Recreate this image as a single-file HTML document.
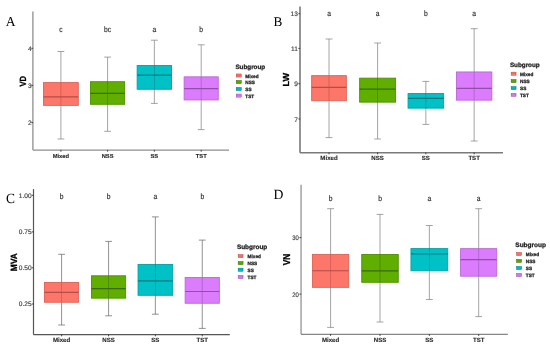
<!DOCTYPE html>
<html><head><meta charset="utf-8"><title>Boxplots</title>
<style>
html,body{margin:0;padding:0;background:#fff;}
body{width:550px;height:347px;overflow:hidden;}
svg{display:block;filter:blur(0.3px);}
text{font-family:"Liberation Sans", Arial, sans-serif;text-rendering:geometricPrecision;}
.tk{font-size:6.6px;fill:#444;stroke:#444;stroke-width:0.18px;text-anchor:end;dominant-baseline:central;}
.xl{font-size:5.8px;fill:#2a2a2a;stroke:#2a2a2a;stroke-width:0.12px;font-weight:bold;text-anchor:middle;dominant-baseline:central;}
.sg{font-size:7.8px;fill:#262626;stroke:#262626;stroke-width:0.15px;text-anchor:middle;dominant-baseline:central;}
.yl{font-size:8.3px;fill:#000;stroke:#000;stroke-width:0.25px;font-weight:bold;text-anchor:middle;dominant-baseline:central;}
.pl{font-family:"Liberation Serif", "Times New Roman", serif;font-size:14.5px;fill:#000;}
.lt{font-size:6.3px;fill:#1a1a1a;stroke:#1a1a1a;stroke-width:0.25px;font-weight:bold;dominant-baseline:central;}
.ll{font-size:4.7px;fill:#1a1a1a;stroke:#1a1a1a;stroke-width:0.25px;font-weight:bold;dominant-baseline:central;}
</style></head>
<body>
<svg width="550" height="347" viewBox="0 0 550 347">
<rect width="550" height="347" fill="#fff"/>
<line x1="32.9" y1="11.5" x2="32.9" y2="150.1" stroke="#8e8e8e" stroke-width="1.3"/>
<line x1="32.9" y1="150.1" x2="229" y2="150.1" stroke="#8e8e8e" stroke-width="1.3"/>
<line x1="31.30" y1="48.3" x2="33.10" y2="48.3" stroke="#333" stroke-width="0.9"/>
<text x="0" y="0" class="tk" transform="translate(31.60,49.00) scale(1,1)">4</text>
<line x1="31.30" y1="85.4" x2="33.10" y2="85.4" stroke="#333" stroke-width="0.9"/>
<text x="0" y="0" class="tk" transform="translate(31.60,86.10) scale(1,1)">3</text>
<line x1="31.30" y1="122.6" x2="33.10" y2="122.6" stroke="#333" stroke-width="0.9"/>
<text x="0" y="0" class="tk" transform="translate(31.60,123.30) scale(1,1)">2</text>
<line x1="60.9" y1="149.90" x2="60.9" y2="151.70" stroke="#333" stroke-width="0.9"/>
<text x="60.9" y="156.70" class="xl" style="font-size:5.8px">Mixed</text>
<line x1="107.6" y1="149.90" x2="107.6" y2="151.70" stroke="#333" stroke-width="0.9"/>
<text x="107.6" y="156.70" class="xl" style="font-size:5.8px">NSS</text>
<line x1="154.35" y1="149.90" x2="154.35" y2="151.70" stroke="#333" stroke-width="0.9"/>
<text x="154.35" y="156.70" class="xl" style="font-size:5.8px">SS</text>
<line x1="201.2" y1="149.90" x2="201.2" y2="151.70" stroke="#333" stroke-width="0.9"/>
<text x="201.2" y="156.70" class="xl" style="font-size:5.8px">TST</text>
<line x1="60.9" y1="51.5" x2="60.9" y2="139.0" stroke="#858585" stroke-width="0.75"/>
<line x1="57.5" y1="51.5" x2="64.3" y2="51.5" stroke="#858585" stroke-width="0.75"/>
<line x1="57.5" y1="139.0" x2="64.3" y2="139.0" stroke="#858585" stroke-width="0.75"/>
<rect x="43.52" y="82.60" width="34.77" height="22.78" fill="#FC766A" stroke="#DC6358" stroke-width="0.9"/>
<line x1="60.9" y1="82.60" x2="60.9" y2="105.38" stroke="#B44E46" stroke-width="0.6" opacity="0.85"/>
<line x1="43.52" y1="96.9" x2="78.29" y2="96.9" stroke="#B44E46" stroke-width="1.2"/>
<text x="0" y="0" class="sg" transform="translate(60.9,29.70) scale(0.86,1)">c</text>
<line x1="107.6" y1="57.1" x2="107.6" y2="131.3" stroke="#858585" stroke-width="0.75"/>
<line x1="104.19999999999999" y1="57.1" x2="111.0" y2="57.1" stroke="#858585" stroke-width="0.75"/>
<line x1="104.19999999999999" y1="131.3" x2="111.0" y2="131.3" stroke="#858585" stroke-width="0.75"/>
<rect x="90.52" y="81.70" width="34.13" height="22.60" fill="#60AE00" stroke="#4F9000" stroke-width="0.9"/>
<line x1="107.6" y1="81.70" x2="107.6" y2="104.30" stroke="#3A6A00" stroke-width="0.6" opacity="0.85"/>
<line x1="90.52" y1="93.3" x2="124.65" y2="93.3" stroke="#3A6A00" stroke-width="1.2"/>
<text x="0" y="0" class="sg" transform="translate(107.6,29.70) scale(0.86,1)">bc</text>
<line x1="154.35" y1="40.2" x2="154.35" y2="103.4" stroke="#858585" stroke-width="0.75"/>
<line x1="150.95" y1="40.2" x2="157.75" y2="40.2" stroke="#858585" stroke-width="0.75"/>
<line x1="150.95" y1="103.4" x2="157.75" y2="103.4" stroke="#858585" stroke-width="0.75"/>
<rect x="137.15" y="65.52" width="34.40" height="23.73" fill="#00C1C6" stroke="#00A2A7" stroke-width="0.9"/>
<line x1="154.35" y1="65.52" x2="154.35" y2="89.25" stroke="#007A80" stroke-width="0.6" opacity="0.85"/>
<line x1="137.15" y1="75.2" x2="171.55" y2="75.2" stroke="#007A80" stroke-width="1.2"/>
<text x="0" y="0" class="sg" transform="translate(154.35,29.70) scale(0.86,1)">a</text>
<line x1="201.2" y1="44.8" x2="201.2" y2="129.6" stroke="#858585" stroke-width="0.75"/>
<line x1="197.79999999999998" y1="44.8" x2="204.6" y2="44.8" stroke="#858585" stroke-width="0.75"/>
<line x1="197.79999999999998" y1="129.6" x2="204.6" y2="129.6" stroke="#858585" stroke-width="0.75"/>
<rect x="184.15" y="76.85" width="34.10" height="23.10" fill="#DB7CFD" stroke="#BA68D6" stroke-width="0.9"/>
<line x1="201.2" y1="76.85" x2="201.2" y2="99.95" stroke="#9050A8" stroke-width="0.6" opacity="0.85"/>
<line x1="184.15" y1="88.6" x2="218.25" y2="88.6" stroke="#9050A8" stroke-width="1.2"/>
<text x="0" y="0" class="sg" transform="translate(201.2,29.70) scale(0.86,1)">b</text>
<text x="0" y="0" class="yl" style="font-size:7.6px" transform="translate(22.8,81.3) rotate(-90) scale(1.0,1.18)">VD</text>
<text x="0" y="0" class="pl" style="font-size:13.6px" transform="translate(5.8,25.8) scale(1.0,1)">A</text>
<text x="235.4" y="67.80" class="lt" style="font-size:6.3px">Subgroup</text>
<rect x="236.25" y="73.95" width="5.00" height="3.1" fill="#FC766A" stroke="#B44E46" stroke-width="0.5"/>
<line x1="236.25" y1="75.5" x2="241.25" y2="75.5" stroke="#B44E46" stroke-width="0.4" opacity="0.6"/>
<text x="245.3" y="76.30" class="ll">Mixed</text>
<rect x="236.25" y="80.45" width="5.00" height="3.1" fill="#60AE00" stroke="#3A6A00" stroke-width="0.5"/>
<line x1="236.25" y1="82.0" x2="241.25" y2="82.0" stroke="#3A6A00" stroke-width="0.4" opacity="0.6"/>
<text x="245.3" y="82.80" class="ll">NSS</text>
<rect x="236.25" y="87.45" width="5.00" height="3.1" fill="#00C1C6" stroke="#007A80" stroke-width="0.5"/>
<line x1="236.25" y1="89.0" x2="241.25" y2="89.0" stroke="#007A80" stroke-width="0.4" opacity="0.6"/>
<text x="245.3" y="89.80" class="ll">SS</text>
<rect x="236.25" y="94.05" width="5.00" height="3.1" fill="#DB7CFD" stroke="#9050A8" stroke-width="0.5"/>
<line x1="236.25" y1="95.6" x2="241.25" y2="95.6" stroke="#9050A8" stroke-width="0.4" opacity="0.6"/>
<text x="245.3" y="96.40" class="ll">TST</text>
<line x1="300.0" y1="6.5" x2="300.0" y2="152.7" stroke="#7a7a7a" stroke-width="1.6"/>
<line x1="300.0" y1="152.7" x2="503" y2="152.7" stroke="#7a7a7a" stroke-width="1.6"/>
<line x1="298.40" y1="13.7" x2="300.20" y2="13.7" stroke="#333" stroke-width="0.9"/>
<text x="0" y="0" class="tk" transform="translate(297.85,14.90) scale(1,1)">13</text>
<line x1="298.40" y1="48.4" x2="300.20" y2="48.4" stroke="#333" stroke-width="0.9"/>
<text x="0" y="0" class="tk" transform="translate(297.85,49.60) scale(1,1)">11</text>
<line x1="298.40" y1="83.7" x2="300.20" y2="83.7" stroke="#333" stroke-width="0.9"/>
<text x="0" y="0" class="tk" transform="translate(297.85,84.90) scale(1,1)">9</text>
<line x1="298.40" y1="119.0" x2="300.20" y2="119.0" stroke="#333" stroke-width="0.9"/>
<text x="0" y="0" class="tk" transform="translate(297.85,120.20) scale(1,1)">7</text>
<line x1="329.0" y1="152.50" x2="329.0" y2="154.30" stroke="#333" stroke-width="0.9"/>
<text x="329.0" y="158.80" class="xl" style="font-size:6.1px">Mixed</text>
<line x1="377.6" y1="152.50" x2="377.6" y2="154.30" stroke="#333" stroke-width="0.9"/>
<text x="377.6" y="158.80" class="xl" style="font-size:6.1px">NSS</text>
<line x1="425.85" y1="152.50" x2="425.85" y2="154.30" stroke="#333" stroke-width="0.9"/>
<text x="425.85" y="158.80" class="xl" style="font-size:6.1px">SS</text>
<line x1="474.15" y1="152.50" x2="474.15" y2="154.30" stroke="#333" stroke-width="0.9"/>
<text x="474.15" y="158.80" class="xl" style="font-size:6.1px">TST</text>
<line x1="329.0" y1="39.0" x2="329.0" y2="137.6" stroke="#858585" stroke-width="0.75"/>
<line x1="325.6" y1="39.0" x2="332.4" y2="39.0" stroke="#858585" stroke-width="0.75"/>
<line x1="325.6" y1="137.6" x2="332.4" y2="137.6" stroke="#858585" stroke-width="0.75"/>
<rect x="311.65" y="75.65" width="34.70" height="25.05" fill="#FC766A" stroke="#DC6358" stroke-width="0.9"/>
<line x1="329.0" y1="75.65" x2="329.0" y2="100.70" stroke="#B44E46" stroke-width="0.6" opacity="0.85"/>
<line x1="311.65" y1="87.4" x2="346.35" y2="87.4" stroke="#B44E46" stroke-width="1.2"/>
<text x="0" y="0" class="sg" transform="translate(329.0,13.50) scale(0.86,1)">a</text>
<line x1="377.6" y1="43.0" x2="377.6" y2="139.0" stroke="#858585" stroke-width="0.75"/>
<line x1="374.20000000000005" y1="43.0" x2="381.0" y2="43.0" stroke="#858585" stroke-width="0.75"/>
<line x1="374.20000000000005" y1="139.0" x2="381.0" y2="139.0" stroke="#858585" stroke-width="0.75"/>
<rect x="359.65" y="78.15" width="35.95" height="24.00" fill="#60AE00" stroke="#4F9000" stroke-width="0.9"/>
<line x1="377.6" y1="78.15" x2="377.6" y2="102.15" stroke="#3A6A00" stroke-width="0.6" opacity="0.85"/>
<line x1="359.65" y1="89.1" x2="395.60" y2="89.1" stroke="#3A6A00" stroke-width="1.2"/>
<text x="0" y="0" class="sg" transform="translate(377.6,13.50) scale(0.86,1)">a</text>
<line x1="425.85" y1="81.4" x2="425.85" y2="124.4" stroke="#858585" stroke-width="0.75"/>
<line x1="422.45000000000005" y1="81.4" x2="429.25" y2="81.4" stroke="#858585" stroke-width="0.75"/>
<line x1="422.45000000000005" y1="124.4" x2="429.25" y2="124.4" stroke="#858585" stroke-width="0.75"/>
<rect x="408.05" y="93.55" width="35.60" height="14.60" fill="#00C1C6" stroke="#00A2A7" stroke-width="0.9"/>
<line x1="425.85" y1="93.55" x2="425.85" y2="108.15" stroke="#007A80" stroke-width="0.6" opacity="0.85"/>
<line x1="408.05" y1="98.45" x2="443.65" y2="98.45" stroke="#007A80" stroke-width="1.2"/>
<text x="0" y="0" class="sg" transform="translate(425.85,13.50) scale(0.86,1)">b</text>
<line x1="474.15" y1="28.7" x2="474.15" y2="141.0" stroke="#858585" stroke-width="0.75"/>
<line x1="470.75" y1="28.7" x2="477.54999999999995" y2="28.7" stroke="#858585" stroke-width="0.75"/>
<line x1="470.75" y1="141.0" x2="477.54999999999995" y2="141.0" stroke="#858585" stroke-width="0.75"/>
<rect x="456.45" y="71.95" width="35.40" height="28.20" fill="#DB7CFD" stroke="#BA68D6" stroke-width="0.9"/>
<line x1="474.15" y1="71.95" x2="474.15" y2="100.15" stroke="#9050A8" stroke-width="0.6" opacity="0.85"/>
<line x1="456.45" y1="88.3" x2="491.85" y2="88.3" stroke="#9050A8" stroke-width="1.2"/>
<text x="0" y="0" class="sg" transform="translate(474.15,13.50) scale(0.86,1)">a</text>
<text x="0" y="0" class="yl" style="font-size:8.4px" transform="translate(286.1,79.7) rotate(-90) scale(1.1,1.05)">LW</text>
<text x="0" y="0" class="pl" style="font-size:13.3px" transform="translate(273.4,26.15) scale(1.0,1)">B</text>
<text x="509.9" y="65.50" class="lt" style="font-size:6.3px">Subgroup</text>
<rect x="511.15" y="72.15" width="4.90" height="3.1" fill="#FC766A" stroke="#B44E46" stroke-width="0.5"/>
<line x1="511.15" y1="73.7" x2="516.05" y2="73.7" stroke="#B44E46" stroke-width="0.4" opacity="0.6"/>
<text x="520.0" y="74.50" class="ll">Mixed</text>
<rect x="511.15" y="79.55" width="4.90" height="3.1" fill="#60AE00" stroke="#3A6A00" stroke-width="0.5"/>
<line x1="511.15" y1="81.1" x2="516.05" y2="81.1" stroke="#3A6A00" stroke-width="0.4" opacity="0.6"/>
<text x="520.0" y="81.90" class="ll">NSS</text>
<rect x="511.15" y="86.55" width="4.90" height="3.1" fill="#00C1C6" stroke="#007A80" stroke-width="0.5"/>
<line x1="511.15" y1="88.1" x2="516.05" y2="88.1" stroke="#007A80" stroke-width="0.4" opacity="0.6"/>
<text x="520.0" y="88.90" class="ll">SS</text>
<rect x="511.15" y="93.25" width="4.90" height="3.1" fill="#DB7CFD" stroke="#9050A8" stroke-width="0.5"/>
<line x1="511.15" y1="94.8" x2="516.05" y2="94.8" stroke="#9050A8" stroke-width="0.4" opacity="0.6"/>
<text x="520.0" y="95.60" class="ll">TST</text>
<line x1="33.5" y1="189.1" x2="33.5" y2="334.7" stroke="#555555" stroke-width="1.2"/>
<line x1="33.5" y1="334.7" x2="229.8" y2="334.7" stroke="#555555" stroke-width="1.2"/>
<line x1="31.90" y1="195.3" x2="33.70" y2="195.3" stroke="#333" stroke-width="0.9"/>
<text x="0" y="0" class="tk" transform="translate(31.60,196.00) scale(1,1)">1.00</text>
<line x1="31.90" y1="231.9" x2="33.70" y2="231.9" stroke="#333" stroke-width="0.9"/>
<text x="0" y="0" class="tk" transform="translate(31.60,232.60) scale(1,1)">0.75</text>
<line x1="31.90" y1="267.8" x2="33.70" y2="267.8" stroke="#333" stroke-width="0.9"/>
<text x="0" y="0" class="tk" transform="translate(31.60,268.50) scale(1,1)">0.50</text>
<line x1="31.90" y1="304.0" x2="33.70" y2="304.0" stroke="#333" stroke-width="0.9"/>
<text x="0" y="0" class="tk" transform="translate(31.60,304.70) scale(1,1)">0.25</text>
<line x1="61.6" y1="334.50" x2="61.6" y2="336.30" stroke="#333" stroke-width="0.9"/>
<text x="61.6" y="340.70" class="xl" style="font-size:6.1px">Mixed</text>
<line x1="108.6" y1="334.50" x2="108.6" y2="336.30" stroke="#333" stroke-width="0.9"/>
<text x="108.6" y="340.70" class="xl" style="font-size:6.1px">NSS</text>
<line x1="155.35" y1="334.50" x2="155.35" y2="336.30" stroke="#333" stroke-width="0.9"/>
<text x="155.35" y="340.70" class="xl" style="font-size:6.1px">SS</text>
<line x1="202.25" y1="334.50" x2="202.25" y2="336.30" stroke="#333" stroke-width="0.9"/>
<text x="202.25" y="340.70" class="xl" style="font-size:6.1px">TST</text>
<line x1="61.6" y1="254.3" x2="61.6" y2="325.0" stroke="#6e6e6e" stroke-width="0.75"/>
<line x1="58.2" y1="254.3" x2="65.0" y2="254.3" stroke="#6e6e6e" stroke-width="0.75"/>
<line x1="58.2" y1="325.0" x2="65.0" y2="325.0" stroke="#6e6e6e" stroke-width="0.75"/>
<rect x="44.52" y="282.45" width="34.13" height="19.80" fill="#FC766A" stroke="#DC6358" stroke-width="0.9"/>
<line x1="61.6" y1="282.45" x2="61.6" y2="302.25" stroke="#B44E46" stroke-width="0.6" opacity="0.85"/>
<line x1="44.52" y1="292.4" x2="78.65" y2="292.4" stroke="#B44E46" stroke-width="1.2"/>
<text x="0" y="0" class="sg" transform="translate(61.6,196.00) scale(0.86,1)">b</text>
<line x1="108.6" y1="241.4" x2="108.6" y2="315.8" stroke="#6e6e6e" stroke-width="0.75"/>
<line x1="105.19999999999999" y1="241.4" x2="112.0" y2="241.4" stroke="#6e6e6e" stroke-width="0.75"/>
<line x1="105.19999999999999" y1="315.8" x2="112.0" y2="315.8" stroke="#6e6e6e" stroke-width="0.75"/>
<rect x="91.52" y="275.80" width="34.13" height="22.35" fill="#60AE00" stroke="#4F9000" stroke-width="0.9"/>
<line x1="108.6" y1="275.80" x2="108.6" y2="298.15" stroke="#3A6A00" stroke-width="0.6" opacity="0.85"/>
<line x1="91.52" y1="288.7" x2="125.65" y2="288.7" stroke="#3A6A00" stroke-width="1.2"/>
<text x="0" y="0" class="sg" transform="translate(108.6,196.00) scale(0.86,1)">b</text>
<line x1="155.35" y1="216.9" x2="155.35" y2="314.2" stroke="#6e6e6e" stroke-width="0.75"/>
<line x1="151.95" y1="216.9" x2="158.75" y2="216.9" stroke="#6e6e6e" stroke-width="0.75"/>
<line x1="151.95" y1="314.2" x2="158.75" y2="314.2" stroke="#6e6e6e" stroke-width="0.75"/>
<rect x="138.05" y="264.45" width="34.60" height="30.85" fill="#00C1C6" stroke="#00A2A7" stroke-width="0.9"/>
<line x1="155.35" y1="264.45" x2="155.35" y2="295.30" stroke="#007A80" stroke-width="0.6" opacity="0.85"/>
<line x1="138.05" y1="280.8" x2="172.65" y2="280.8" stroke="#007A80" stroke-width="1.2"/>
<text x="0" y="0" class="sg" transform="translate(155.35,196.00) scale(0.86,1)">a</text>
<line x1="202.25" y1="240.1" x2="202.25" y2="328.4" stroke="#6e6e6e" stroke-width="0.75"/>
<line x1="198.85" y1="240.1" x2="205.65" y2="240.1" stroke="#6e6e6e" stroke-width="0.75"/>
<line x1="198.85" y1="328.4" x2="205.65" y2="328.4" stroke="#6e6e6e" stroke-width="0.75"/>
<rect x="185.15" y="277.45" width="34.20" height="25.80" fill="#DB7CFD" stroke="#BA68D6" stroke-width="0.9"/>
<line x1="202.25" y1="277.45" x2="202.25" y2="303.25" stroke="#9050A8" stroke-width="0.6" opacity="0.85"/>
<line x1="185.15" y1="291.5" x2="219.35" y2="291.5" stroke="#9050A8" stroke-width="1.2"/>
<text x="0" y="0" class="sg" transform="translate(202.25,196.00) scale(0.86,1)">b</text>
<text x="0" y="0" class="yl" style="font-size:8.1px" transform="translate(14.3,262.1) rotate(-90) scale(1.04,1.12)">MVA</text>
<text x="0" y="0" class="pl" style="font-size:14.0px" transform="translate(6.0,202.7) scale(0.96,1)">C</text>
<text x="236.9" y="247.80" class="lt" style="font-size:6.45px">Subgroup</text>
<rect x="238.15" y="254.55" width="4.90" height="3.1" fill="#FC766A" stroke="#B44E46" stroke-width="0.5"/>
<line x1="238.15" y1="256.1" x2="243.05" y2="256.1" stroke="#B44E46" stroke-width="0.4" opacity="0.6"/>
<text x="247.6" y="256.90" class="ll">Mixed</text>
<rect x="238.15" y="261.55" width="4.90" height="3.1" fill="#60AE00" stroke="#3A6A00" stroke-width="0.5"/>
<line x1="238.15" y1="263.1" x2="243.05" y2="263.1" stroke="#3A6A00" stroke-width="0.4" opacity="0.6"/>
<text x="247.6" y="263.90" class="ll">NSS</text>
<rect x="238.15" y="268.15" width="4.90" height="3.1" fill="#00C1C6" stroke="#007A80" stroke-width="0.5"/>
<line x1="238.15" y1="269.7" x2="243.05" y2="269.7" stroke="#007A80" stroke-width="0.4" opacity="0.6"/>
<text x="247.6" y="270.50" class="ll">SS</text>
<rect x="238.15" y="275.45" width="4.90" height="3.1" fill="#DB7CFD" stroke="#9050A8" stroke-width="0.5"/>
<line x1="238.15" y1="277.0" x2="243.05" y2="277.0" stroke="#9050A8" stroke-width="0.4" opacity="0.6"/>
<text x="247.6" y="277.80" class="ll">TST</text>
<line x1="301.05" y1="184.7" x2="301.05" y2="334.3" stroke="#858585" stroke-width="1.15"/>
<line x1="301.05" y1="334.3" x2="507.8" y2="334.3" stroke="#858585" stroke-width="1.15"/>
<line x1="299.45" y1="237.6" x2="301.25" y2="237.6" stroke="#333" stroke-width="0.9"/>
<text x="0" y="0" class="tk" transform="translate(298.85,238.90) scale(0.9,1)">30</text>
<line x1="299.45" y1="294.1" x2="301.25" y2="294.1" stroke="#333" stroke-width="0.9"/>
<text x="0" y="0" class="tk" transform="translate(298.85,295.40) scale(0.9,1)">20</text>
<line x1="330.6" y1="334.10" x2="330.6" y2="335.90" stroke="#333" stroke-width="0.9"/>
<text x="330.6" y="340.70" class="xl" style="font-size:6.1px">Mixed</text>
<line x1="380.0" y1="334.10" x2="380.0" y2="335.90" stroke="#333" stroke-width="0.9"/>
<text x="380.0" y="340.70" class="xl" style="font-size:6.1px">NSS</text>
<line x1="429.35" y1="334.10" x2="429.35" y2="335.90" stroke="#333" stroke-width="0.9"/>
<text x="429.35" y="340.70" class="xl" style="font-size:6.1px">SS</text>
<line x1="478.7" y1="334.10" x2="478.7" y2="335.90" stroke="#333" stroke-width="0.9"/>
<text x="478.7" y="340.70" class="xl" style="font-size:6.1px">TST</text>
<line x1="330.6" y1="208.7" x2="330.6" y2="327.4" stroke="#858585" stroke-width="0.75"/>
<line x1="327.20000000000005" y1="208.7" x2="334.0" y2="208.7" stroke="#858585" stroke-width="0.75"/>
<line x1="327.20000000000005" y1="327.4" x2="334.0" y2="327.4" stroke="#858585" stroke-width="0.75"/>
<rect x="312.49" y="254.42" width="36.26" height="32.93" fill="#FC766A" stroke="#DC6358" stroke-width="0.9"/>
<line x1="330.6" y1="254.42" x2="330.6" y2="287.35" stroke="#B44E46" stroke-width="0.6" opacity="0.85"/>
<line x1="312.49" y1="270.75" x2="348.75" y2="270.75" stroke="#B44E46" stroke-width="1.2"/>
<text x="0" y="0" class="sg" transform="translate(330.6,198.10) scale(0.86,1)">b</text>
<line x1="380.0" y1="214.4" x2="380.0" y2="322.0" stroke="#858585" stroke-width="0.75"/>
<line x1="376.6" y1="214.4" x2="383.4" y2="214.4" stroke="#858585" stroke-width="0.75"/>
<line x1="376.6" y1="322.0" x2="383.4" y2="322.0" stroke="#858585" stroke-width="0.75"/>
<rect x="361.75" y="254.45" width="36.50" height="27.85" fill="#60AE00" stroke="#4F9000" stroke-width="0.9"/>
<line x1="380.0" y1="254.45" x2="380.0" y2="282.30" stroke="#3A6A00" stroke-width="0.6" opacity="0.85"/>
<line x1="361.75" y1="270.9" x2="398.25" y2="270.9" stroke="#3A6A00" stroke-width="1.2"/>
<text x="0" y="0" class="sg" transform="translate(380.0,198.10) scale(0.86,1)">b</text>
<line x1="429.35" y1="225.5" x2="429.35" y2="299.5" stroke="#858585" stroke-width="0.75"/>
<line x1="425.95000000000005" y1="225.5" x2="432.75" y2="225.5" stroke="#858585" stroke-width="0.75"/>
<line x1="425.95000000000005" y1="299.5" x2="432.75" y2="299.5" stroke="#858585" stroke-width="0.75"/>
<rect x="410.95" y="248.60" width="36.80" height="22.15" fill="#00C1C6" stroke="#00A2A7" stroke-width="0.9"/>
<line x1="429.35" y1="248.60" x2="429.35" y2="270.75" stroke="#007A80" stroke-width="0.6" opacity="0.85"/>
<line x1="410.95" y1="253.85" x2="447.75" y2="253.85" stroke="#007A80" stroke-width="1.2"/>
<text x="0" y="0" class="sg" transform="translate(429.35,198.10) scale(0.86,1)">a</text>
<line x1="478.7" y1="208.7" x2="478.7" y2="316.6" stroke="#858585" stroke-width="0.75"/>
<line x1="475.3" y1="208.7" x2="482.09999999999997" y2="208.7" stroke="#858585" stroke-width="0.75"/>
<line x1="475.3" y1="316.6" x2="482.09999999999997" y2="316.6" stroke="#858585" stroke-width="0.75"/>
<rect x="460.60" y="248.65" width="36.15" height="27.55" fill="#DB7CFD" stroke="#BA68D6" stroke-width="0.9"/>
<line x1="478.7" y1="248.65" x2="478.7" y2="276.20" stroke="#9050A8" stroke-width="0.6" opacity="0.85"/>
<line x1="460.60" y1="259.7" x2="496.75" y2="259.7" stroke="#9050A8" stroke-width="1.2"/>
<text x="0" y="0" class="sg" transform="translate(478.7,198.10) scale(0.86,1)">a</text>
<text x="0" y="0" class="yl" style="font-size:8.3px" transform="translate(286.4,259.6) rotate(-90) scale(1.0,1.2)">VN</text>
<text x="0" y="0" class="pl" style="font-size:14.1px" transform="translate(273.4,199.4) scale(0.975,1)">D</text>
<text x="515.3" y="245.50" class="lt" style="font-size:6.5px">Subgroup</text>
<rect x="516.55" y="252.45" width="5.00" height="3.1" fill="#FC766A" stroke="#B44E46" stroke-width="0.5"/>
<line x1="516.55" y1="254.0" x2="521.55" y2="254.0" stroke="#B44E46" stroke-width="0.4" opacity="0.6"/>
<text x="525.8" y="254.80" class="ll">Mixed</text>
<rect x="516.55" y="259.35" width="5.00" height="3.1" fill="#60AE00" stroke="#3A6A00" stroke-width="0.5"/>
<line x1="516.55" y1="260.9" x2="521.55" y2="260.9" stroke="#3A6A00" stroke-width="0.4" opacity="0.6"/>
<text x="525.8" y="261.70" class="ll">NSS</text>
<rect x="516.55" y="266.45" width="5.00" height="3.1" fill="#00C1C6" stroke="#007A80" stroke-width="0.5"/>
<line x1="516.55" y1="268.0" x2="521.55" y2="268.0" stroke="#007A80" stroke-width="0.4" opacity="0.6"/>
<text x="525.8" y="268.80" class="ll">SS</text>
<rect x="516.55" y="273.45" width="5.00" height="3.1" fill="#DB7CFD" stroke="#9050A8" stroke-width="0.5"/>
<line x1="516.55" y1="275.0" x2="521.55" y2="275.0" stroke="#9050A8" stroke-width="0.4" opacity="0.6"/>
<text x="525.8" y="275.80" class="ll">TST</text>
</svg>
</body></html>
